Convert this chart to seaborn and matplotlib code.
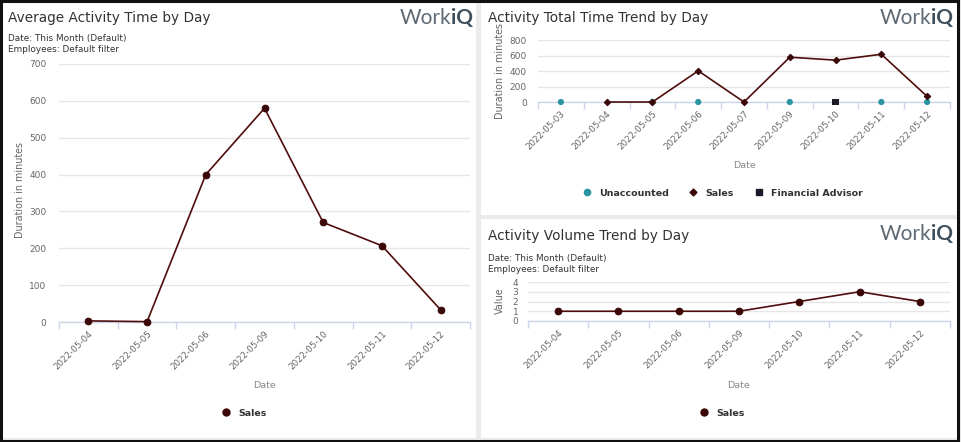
import numpy as np
import matplotlib
matplotlib.use('Agg')
import matplotlib.pyplot as plt
import seaborn as sns
from matplotlib.patches import Rectangle
from matplotlib.lines import Line2D

sns.set_theme(style='white')
plt.rcParams['font.family'] = ['DejaVu Sans']

W, H = 961, 442

# ---- data ----
avg_dates = ['2022-05-04', '2022-05-05', '2022-05-06', '2022-05-09',
             '2022-05-10', '2022-05-11', '2022-05-12']
avg_sales = [3, 1, 400, 580, 270, 207, 33]

trend_dates = ['2022-05-03', '2022-05-04', '2022-05-05', '2022-05-06', '2022-05-07',
               '2022-05-09', '2022-05-10', '2022-05-11', '2022-05-12']
trend_sales_dates = ['2022-05-04', '2022-05-05', '2022-05-06', '2022-05-07',
                     '2022-05-09', '2022-05-10', '2022-05-11', '2022-05-12']
trend_sales = [0, 0, 402, 0, 578, 540, 616, 72]
unacc_dates = ['2022-05-03', '2022-05-05', '2022-05-06', '2022-05-09', '2022-05-11', '2022-05-12']
unacc_vals = [0, 0, 0, 0, 0, 0]
fa_dates = ['2022-05-10']
fa_vals = [0]

vol_dates = ['2022-05-04', '2022-05-05', '2022-05-06', '2022-05-09',
             '2022-05-10', '2022-05-11', '2022-05-12']
vol_sales = [1, 1, 1, 1, 2, 3, 2]

MAROON = '#4f0d0d'
MARKER = '#3a0606'
TEAL = '#2a95a0'
SQUARE = '#1c1a26'
AXIS = '#ccd6eb'
GRID = '#e6e6e6'
TXT = '#333333'
LBL = '#666666'


def px_axes(fig, x0, y0, x1, y1):
    return fig.add_axes([x0 / W, 1 - y1 / H, (x1 - x0) / W, (y1 - y0) / H])


def fx(x):
    return x / W


def fy(y):
    return 1 - y / H


def style_axes(ax, labels, ylim, yticks, ypad):
    n = len(labels)
    ax.set_xlim(-0.5, n - 0.5)
    ax.set_ylim(*ylim)
    ax.set_yticks(yticks)
    ax.set_xticks(range(n))
    ax.set_xticklabels(labels, rotation=45, ha='right', rotation_mode='anchor',
                       fontsize=6.3, color=LBL)
    ax.set_xticks(np.arange(-0.5, n), minor=True)
    ax.tick_params(axis='x', which='major', length=0, pad=5)
    ax.tick_params(axis='x', which='minor', length=5, color=AXIS, width=1, direction='out', bottom=True)
    ax.tick_params(axis='y', length=0, labelsize=6.5, labelcolor=LBL, pad=ypad)
    ax.grid(axis='y', which='major', color=GRID, lw=1)
    ax.grid(axis='x', visible=False)
    for s in ['top', 'right', 'left']:
        ax.spines[s].set_visible(False)
    ax.spines['bottom'].set_color(AXIS)
    ax.spines['bottom'].set_linewidth(1)
    ax.spines['bottom'].set_zorder(1)
    ax.set_xlabel('')
    ax.set_ylabel('')
    ax.set_facecolor('none')
    ax.set_axisbelow(True)


def logo(fig, x_right, y_base):
    t = fig.text(fx(x_right), fy(y_base), 'iQ', ha='right', va='baseline', fontsize=15,
                 fontweight='bold', color='#3f4f5b', family=['Lato', 'DejaVu Sans'])
    bb = t.get_window_extent(fig.canvas.get_renderer())
    fig.text(bb.x0 / W, fy(y_base), 'Work', ha='right', va='baseline', fontsize=15,
             fontweight='normal', color='#5e6a74', family=['Lato', 'DejaVu Sans'])


fig = plt.figure(figsize=(W / 100, H / 100), dpi=100)
fig.patch.set_facecolor('#ebebeb')

# panel backgrounds
for x0, y0, x1, y1 in [(2, 2, 476, 438), (481, 2, 957, 215), (481, 219, 957, 438)]:
    fig.patches.append(Rectangle((fx(x0), fy(y1)), (x1 - x0) / W, (y1 - y0) / H,
                                 transform=fig.transFigure, facecolor='white', edgecolor='none', zorder=-10))
fig.patches.append(Rectangle((0.001, 0.003), 0.996, 0.995, transform=fig.transFigure,
                             fill=False, edgecolor='#111111', lw=2.2, zorder=5))

# ---- left panel: average activity time ----
ax1 = px_axes(fig, 59, 64, 470, 322)
pos = [avg_dates.index(d) for d in avg_dates]
sns.lineplot(x=pos, y=avg_sales, ax=ax1, color=MAROON, linewidth=1.2, marker='o',
             markersize=4.8, markerfacecolor=MARKER, markeredgecolor=MARKER, clip_on=False, legend=False)
style_axes(ax1, avg_dates, (0, 700), range(0, 701, 100), 9)
fig.text(fx(8), fy(18), 'Average Activity Time by Day', ha='left', va='center', fontsize=9.8, color=TXT)
fig.text(fx(8), fy(39), 'Date: This Month (Default)', ha='left', va='center', fontsize=6.4, color=TXT)
fig.text(fx(8), fy(50), 'Employees: Default filter', ha='left', va='center', fontsize=6.4, color=TXT)
fig.text(fx(20), fy(190), 'Duration in minutes', rotation=90, ha='center', va='center', fontsize=6.9, color=LBL)
fig.text(fx(264), fy(385), 'Date', ha='center', va='center', fontsize=6.8, color='#888888')
h = [Line2D([], [], color=MARKER, marker='o', ls='none', markersize=5)]
fig.legend(h, ['Sales'], loc='center', bbox_to_anchor=(fx(242), fy(413)), frameon=False,
           prop={'size': 6.8, 'weight': 'bold'}, labelcolor=TXT, handletextpad=0.3)
logo(fig, 473, 24)

# ---- top right: activity total time trend ----
ax2 = px_axes(fig, 538, 40, 950, 102)
sns.scatterplot(x=[trend_dates.index(d) for d in unacc_dates], y=unacc_vals, ax=ax2,
                color=TEAL, s=20, edgecolor='none', clip_on=False, zorder=3, legend=False)
sns.lineplot(x=[trend_dates.index(d) for d in trend_sales_dates], y=trend_sales, ax=ax2,
             color=MAROON, linewidth=1.2, marker='D', markersize=3.3, markerfacecolor=MARKER,
             markeredgecolor=MARKER, clip_on=False, legend=False, zorder=4)
sns.scatterplot(x=[trend_dates.index(d) for d in fa_dates], y=fa_vals, ax=ax2,
                color=SQUARE, marker='s', s=20, edgecolor='none', clip_on=False, zorder=5, legend=False)
style_axes(ax2, trend_dates, (0, 800), range(0, 801, 200), 8)
fig.text(fx(488), fy(18), 'Activity Total Time Trend by Day', ha='left', va='center', fontsize=9.8, color=TXT)
fig.text(fx(500), fy(71), 'Duration in minutes', rotation=90, ha='center', va='center', fontsize=6.9, color=LBL)
fig.text(fx(744), fy(165), 'Date', ha='center', va='center', fontsize=6.8, color='#888888')
h = [Line2D([], [], color=TEAL, marker='o', ls='none', markersize=4.5),
     Line2D([], [], color=MARKER, marker='D', ls='none', markersize=3.5),
     Line2D([], [], color=SQUARE, marker='s', ls='none', markersize=4.5)]
fig.legend(h, ['Unaccounted', 'Sales', 'Financial Advisor'], loc='center', bbox_to_anchor=(fx(720), fy(193)),
           ncol=3, frameon=False, prop={'size': 6.8, 'weight': 'bold'}, labelcolor=TXT,
           handletextpad=0.3, columnspacing=1.6)
logo(fig, 953, 24)

# ---- bottom right: activity volume trend ----
ax3 = px_axes(fig, 528, 282, 950, 321)
sns.lineplot(x=[vol_dates.index(d) for d in vol_dates], y=vol_sales, ax=ax3, color=MAROON,
             linewidth=1.2, marker='o', markersize=4.8, markerfacecolor=MARKER, markeredgecolor=MARKER,
             clip_on=False, legend=False)
style_axes(ax3, vol_dates, (0, 4), range(0, 5), 7)
fig.text(fx(488), fy(236), 'Activity Volume Trend by Day', ha='left', va='center', fontsize=9.8, color=TXT)
fig.text(fx(488), fy(258), 'Date: This Month (Default)', ha='left', va='center', fontsize=6.4, color=TXT)
fig.text(fx(488), fy(269), 'Employees: Default filter', ha='left', va='center', fontsize=6.4, color=TXT)
fig.text(fx(500), fy(301), 'Value', rotation=90, ha='center', va='center', fontsize=6.9, color=LBL)
fig.text(fx(739), fy(385), 'Date', ha='center', va='center', fontsize=6.8, color='#888888')
h = [Line2D([], [], color=MARKER, marker='o', ls='none', markersize=5)]
fig.legend(h, ['Sales'], loc='center', bbox_to_anchor=(fx(720), fy(413)), frameon=False,
           prop={'size': 6.8, 'weight': 'bold'}, labelcolor=TXT, handletextpad=0.3)
logo(fig, 953, 240)

fig.savefig('out.png', dpi=100, facecolor=fig.get_facecolor())
